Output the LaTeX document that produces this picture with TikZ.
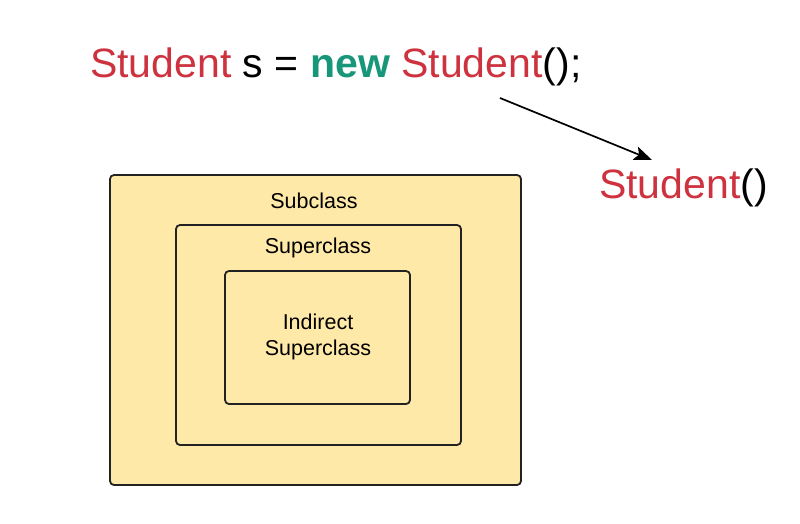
\documentclass[tikz,border=0pt]{standalone}
\usepackage{fontspec}
\setmainfont{Liberation Sans}
\usetikzlibrary{arrows.meta}
\definecolor{codered}{RGB}{205,50,62}
\definecolor{codegreen}{RGB}{24,150,122}
\definecolor{boxfill}{RGB}{255,233,168}
\definecolor{boxline}{RGB}{34,34,34}
\tikzset{
  box/.style={draw=boxline, fill=boxfill, line width=1.8pt, rounded corners=4pt},
  lbl/.style={anchor=base, inner sep=0pt, font=\fontsize{21.5}{26}\selectfont},
  code/.style={anchor=base west, inner sep=0pt, font=\fontsize{41}{49}\selectfont},
}
\begin{document}
\begin{tikzpicture}[x=1pt,y=-1pt]
\useasboundingbox (0,0) rectangle (800,524);
% boxes
\draw[box] (110,175) rectangle (521,485);
\draw[box] (176,225) rectangle (461,445);
\draw[box] (225,271) rectangle (410,404);
\node[lbl] (sub) at (314,208) {Subclass};
\node[lbl] (sup) at (318,253) {Superclass};
\node[lbl] (ind1) at (318,329) {Indirect};
\node[lbl] (ind2) at (318,355) {Superclass};
% code line
\node[code] (codeline) at (90,78) {\textcolor{codered}{Student} s = \textcolor{codegreen}{\textbf{new}} \textcolor{codered}{Student}();};
\node[code] (ctor) at (599,198) {\textcolor{codered}{Student}()};
% arrow
\coordinate (arrstart) at (500,98);
\coordinate (arrend) at (652,160);
\draw[line width=1.7pt, -{Stealth[length=18pt,width=14pt,inset=4pt]}] (arrstart) -- (arrend);
\end{tikzpicture}
\end{document}
